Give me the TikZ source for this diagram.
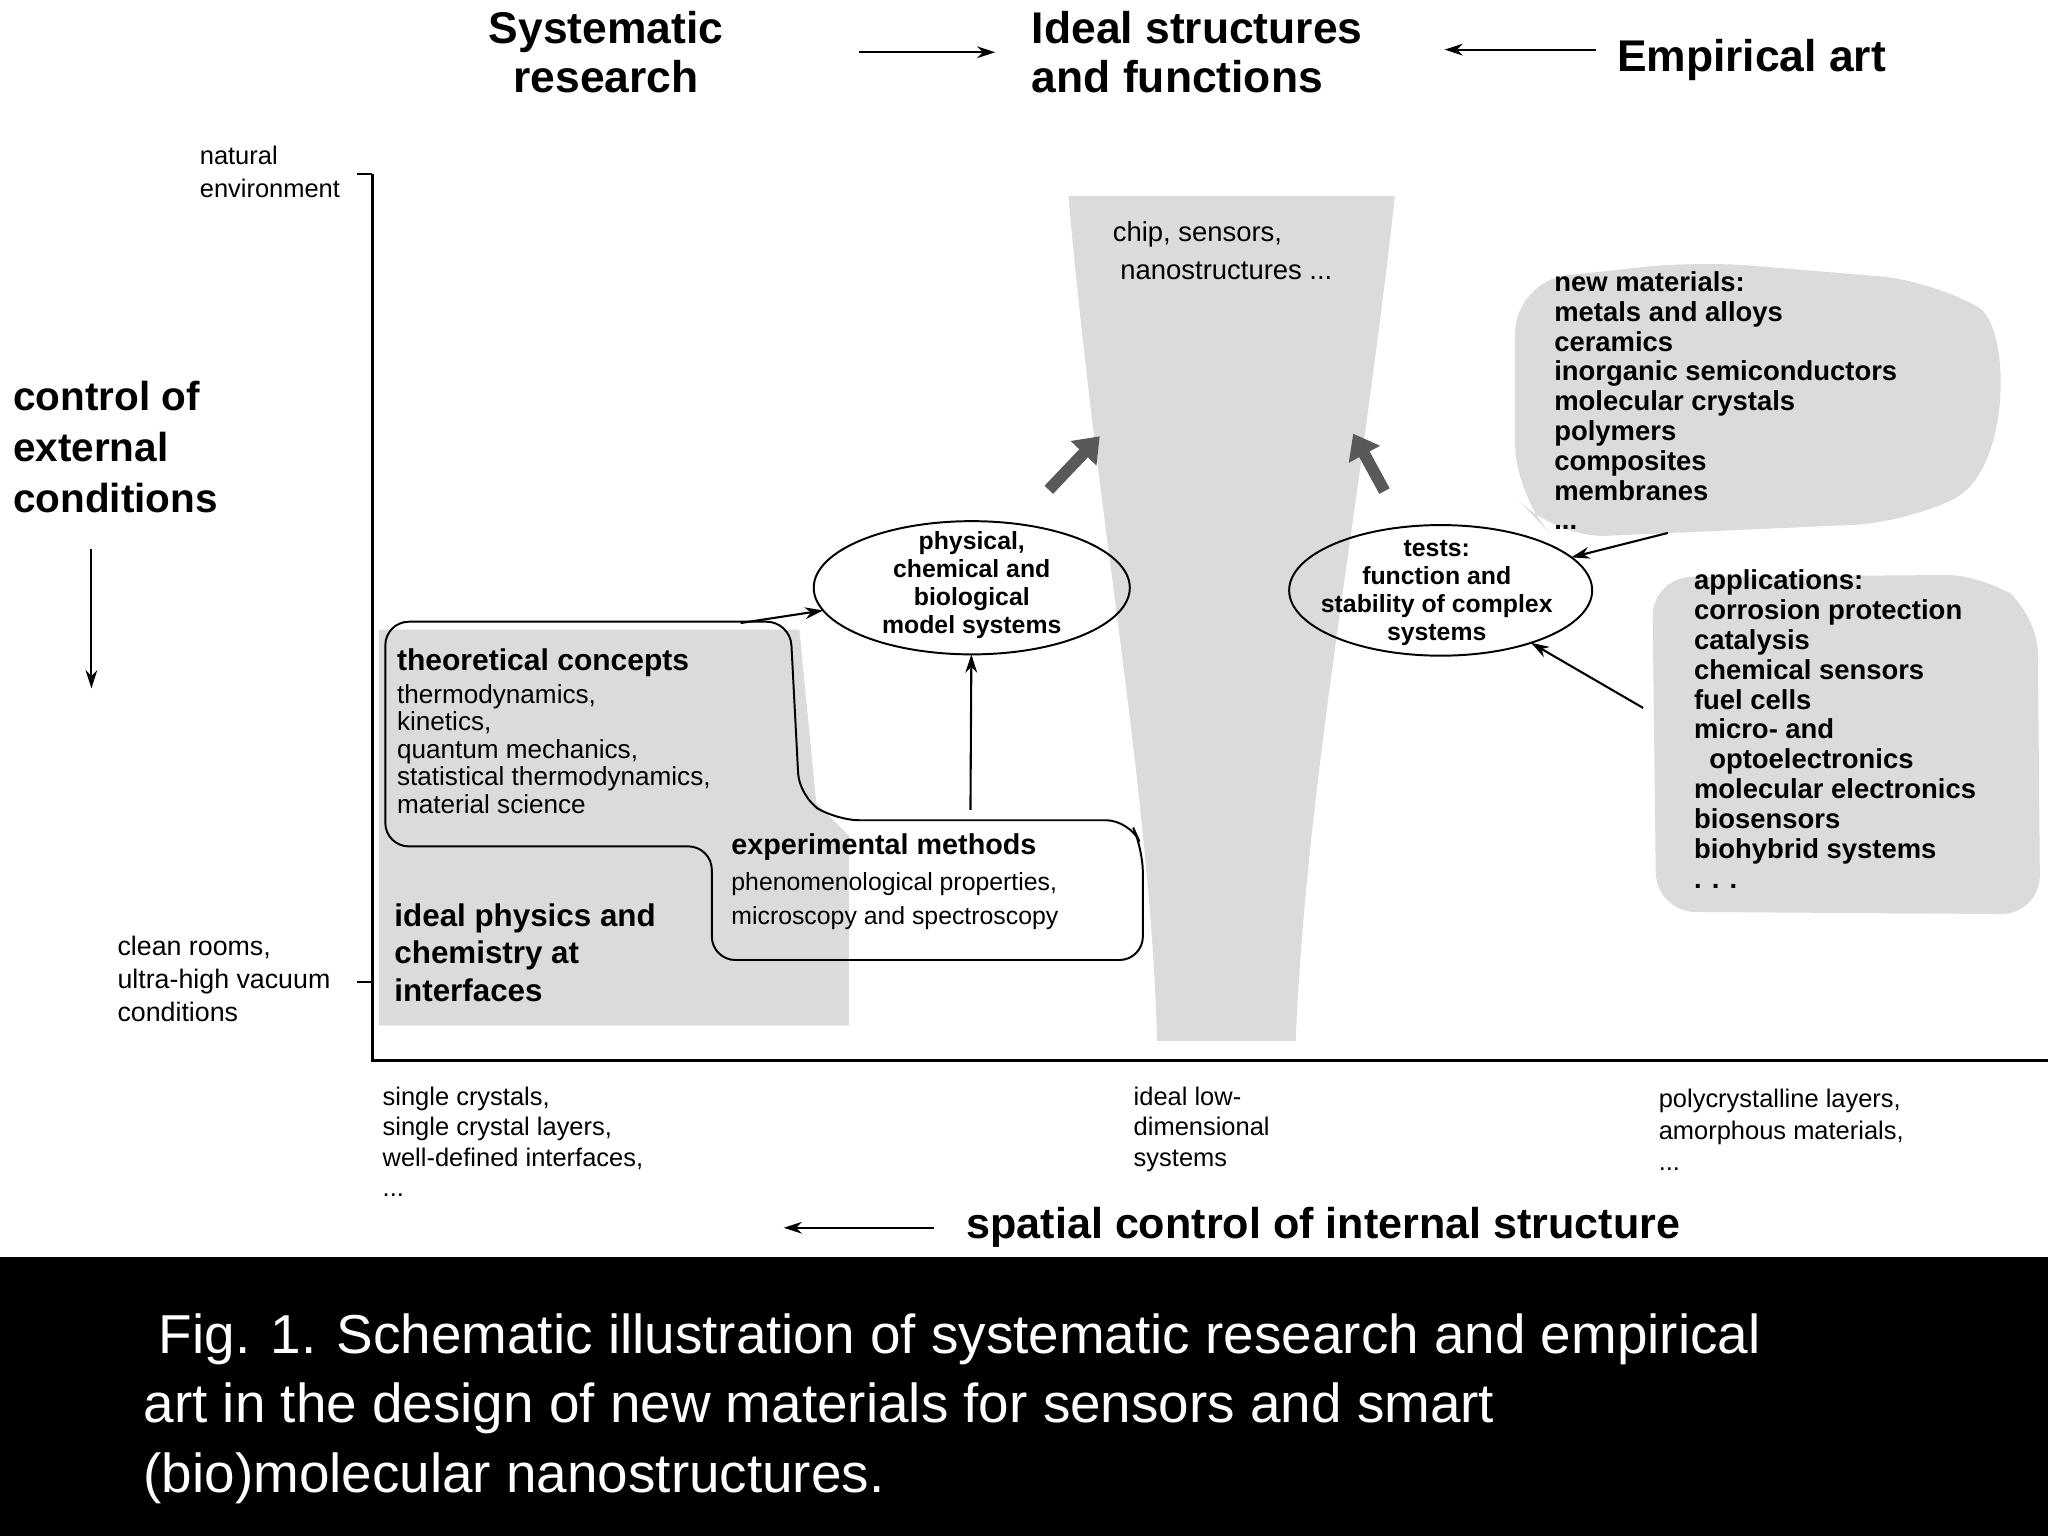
\documentclass[tikz,border=0pt]{standalone}
\usepackage{fontspec}
\setmainfont{Liberation Sans}
\usetikzlibrary{arrows.meta,shapes.geometric}
\begin{document}
\begin{tikzpicture}[x=1pt,y=-1pt,
  every node/.style={inner sep=0pt,outer sep=0pt},
  fs/.style args={#1/#2}{font=\fontsize{#1}{#2}\selectfont},
  big/.style={font=\bfseries\fontsize{34}{38}\selectfont,align=left},
  sm/.style={fs=19/23.5,align=left,anchor=north west},
  smb/.style={font=\bfseries\fontsize{20}{23}\selectfont,align=left,anchor=north west},
  shade/.style={fill=gray!28,draw=none},
  ell/.style={draw,ellipse,line width=1.5pt},
  et/.style={align=center,font=\bfseries\fontsize{19}{21.5}\selectfont},
  arr/.style={-{Stealth[length=14pt,width=9pt]},line width=1.6pt},
  fat/.style={-{Triangle[length=18pt,width=26pt]},line width=9pt,draw=gray!70!black}]
\useasboundingbox (0,0) rectangle (1568,1176);
\fill[white] (0,0) rectangle (1568,962);
% shaded regions
\fill[shade] (290,482) -- (612,482) -- (625,615) -- (650,640) -- (650,785) -- (290,785) -- cycle;
\fill[shade] (818,150) -- (1068,150) .. controls (1040,400) and (1000,600) .. (992,797) -- (886,797) .. controls (880,600) and (840,400) .. (818,150) -- cycle;
\fill[shade,rounded corners=40] (1160,215) -- (1300,200) -- (1480,215) .. controls (1540,250) and (1540,360) .. (1460,400) -- (1190,412) -- (1160,380) -- cycle;
\fill[shade,rounded corners=30] (1265,442) -- (1520,440) -- (1560,470) -- (1562,700) -- (1268,698) -- cycle;
% axes
\draw[line width=2pt] (285,133) -- (285,812) -- (1568,812);
\draw[line width=1.5pt] (273,133) -- (285,133);
\draw[line width=1.5pt] (273,752) -- (285,752);
% titles
\node[big,align=center] (sr) at (464,40) {Systematic\\research};
\node[big,anchor=west] (isf) at (790,40) {Ideal structures\\and functions};
\node[big,anchor=west] (ea) at (1238,46) {Empirical art};
\coordinate (a1) at (658,40); \coordinate (a2) at (762,40);
\draw[arr] (a1) -- (a2);
\coordinate (b1) at (1222,38); \coordinate (b2) at (1106,38);
\draw[arr] (b1) -- (b2);
% left labels
\node[sm,fs=19.5/25] (ne) at (153,112) {natural\\environment};
\node[anchor=north west,align=left,font=\bfseries\fontsize{31}{39}\selectfont] (ce) at (10,292) {control of\\external\\conditions};
\coordinate (c1) at (70,420); \coordinate (c2) at (70,527);
\draw[arr] (c1) -- (c2);
\node[sm,fs=20.5/25] (cr) at (90,717) {clean rooms,\\ultra-high vacuum\\conditions};
% theoretical box
\draw[line width=1.5pt,rounded corners=18] (295,476) -- (605,476) -- (612,610) -- (640,628) -- (865,628) -- (875,650) -- (875,735) -- (545,735) -- (545,648) -- (295,648) -- cycle;
\node[smb,font=\bfseries\fontsize{23}{25}\selectfont] (tc) at (304,497) {theoretical concepts};
\node[sm,fs=20/21] (tci) at (304,524) {thermodynamics,\\kinetics,\\quantum mechanics,\\statistical thermodynamics,\\material science};
\node[smb,font=\bfseries\fontsize{22}{23}\selectfont] (em) at (560,638) {experimental methods};
\node[sm,fs=19/26] (emi) at (560,668) {phenomenological properties,\\microscopy and spectroscopy};
\node[smb,font=\bfseries\fontsize{24}{28.5}\selectfont] (ip) at (302,692) {ideal physics and\\chemistry at\\interfaces};
% ellipses
\node[ell,minimum width=242pt,minimum height=102pt] (e1) at (744,450) {};
\node[et] (e1t) at (744,448) {physical,\\chemical and\\biological\\model systems};
\node[ell,minimum width=232pt,minimum height=100pt] (e2) at (1103,452) {};
\node[et] (e2t) at (1100,454) {tests:\\function and\\stability of complex\\systems};
\coordinate (t1) at (567,477);
\draw[arr] (t1) -- (e1);
\coordinate (u1) at (743,620);
\draw[arr] (u1) -- (e1);
\coordinate (f1) at (803,375); \coordinate (f2) at (842,334);
\draw[fat] (f1) -- (f2);
\coordinate (g1) at (1060,376); \coordinate (g2) at (1036,332);
\draw[fat] (g1) -- (g2);
% chip
\node[sm,fs=21/29] (chip) at (852,170) {chip, sensors,\\\ nanostructures ...};
% new materials
\node[sm,font=\bfseries\fontsize{21}{22.8}\selectfont] (nm) at (1190,208) {new materials:\\metals and alloys\\ceramics\\inorganic semiconductors\\molecular crystals\\polymers\\composites\\membranes\\...};
\coordinate (n1) at (1277,408);
\draw[arr] (n1) -- (e2);
\node[sm,font=\bfseries\fontsize{21}{22.9}\selectfont] (ap) at (1297,436) {applications:\\corrosion protection\\catalysis\\chemical sensors\\fuel cells\\micro- and\\\ \ optoelectronics\\molecular electronics\\biosensors\\biohybrid systems\\. . .};
\coordinate (p1) at (1258,542);
\draw[arr] (p1) -- (e2);
% bottom labels
\node[sm,fs=19.5/23.3] (sc) at (293,832) {single crystals,\\single crystal layers,\\well-defined interfaces,\\...};
\node[sm,fs=19.5/23.5] (ld) at (868,832) {ideal low-\\dimensional\\systems};
\node[sm,fs=19.5/24] (pc) at (1270,834) {polycrystalline layers,\\amorphous materials,\\...};
\coordinate (s1) at (715,940); \coordinate (s2) at (600,940);
\draw[arr] (s1) -- (s2);
\node[anchor=west,font=\bfseries\fontsize{33}{38}\selectfont] (sp) at (740,940) {spatial control of internal structure};
% caption
\fill[black] (0,962) rectangle (1568,1176);
\node[anchor=north west,text=white,align=left,font=\fontsize{42}{53}\selectfont] (cap) at (110,1006) {\ Fig. 1. Schematic illustration of systematic research and empirical\\art in the design of new materials for sensors and smart\\(bio)molecular nanostructures.};
\end{tikzpicture}
\end{document}
